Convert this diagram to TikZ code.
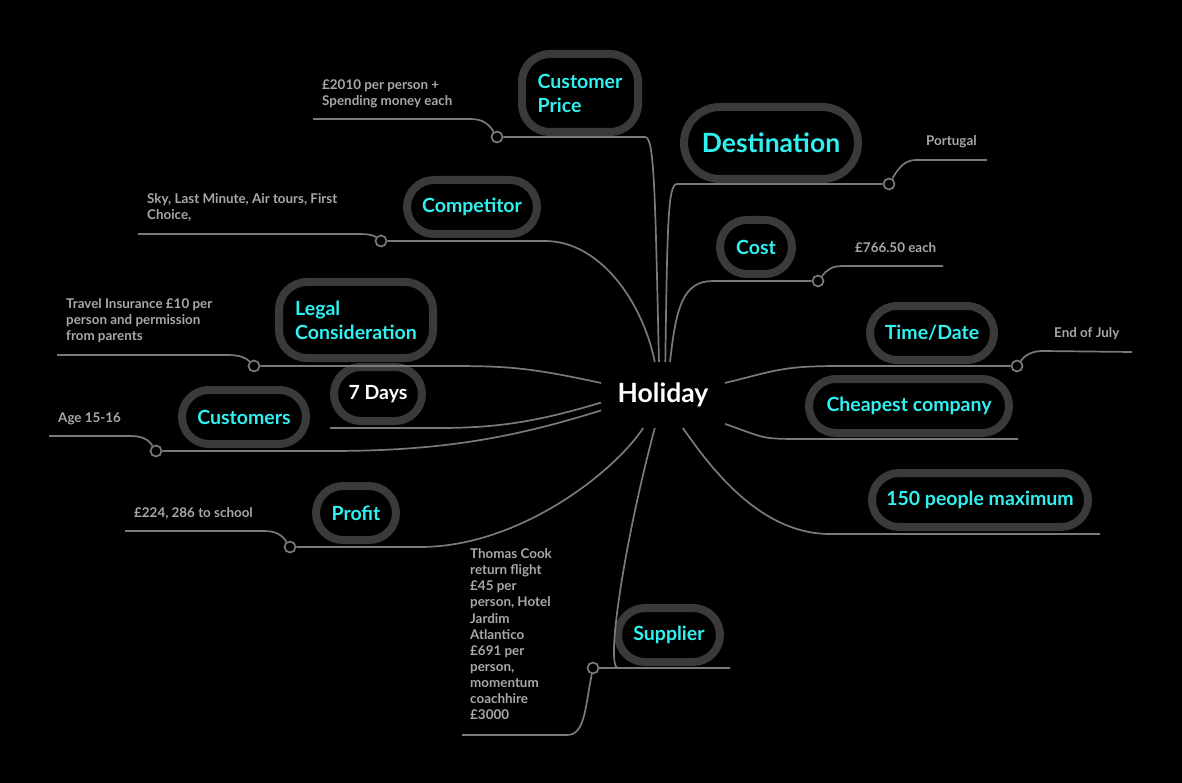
\documentclass[tikz,border=0pt]{standalone}
\usepackage{fontspec}
\setmainfont{Lato}
\definecolor{boxgray}{RGB}{58,58,58}
\definecolor{linkgray}{RGB}{122,122,122}
\definecolor{topiccyan}{RGB}{48,240,240}
\definecolor{notegray}{RGB}{168,168,168}
\tikzset{
  topic/.style={draw=boxgray, line width=8pt, fill=black, text=topiccyan,
    font=\fontsize{19.5}{24}\selectfont\bfseries, rounded corners=27pt,
    minimum height=54pt, inner sep=0pt, outer sep=0pt, align=left},
  twoline/.style={minimum height=78pt, rounded corners=28pt},
  centre/.style={fill=black, text=white, font=\fontsize{26.5}{30}\selectfont\bfseries,
    minimum width=124pt, minimum height=66pt, inner sep=0pt, outer sep=0pt},
  note/.style={anchor=north west, inner sep=0pt, text=notegray,
    font=\fontsize{13.4}{16.1}\selectfont\bfseries, align=left},
  link/.style={draw=linkgray, line width=1.7pt},
  dot/.style={circle, draw=linkgray, fill=black, line width=1.7pt,
    minimum size=11pt, inner sep=0pt}
}
\begin{document}
\begin{tikzpicture}[x=1pt,y=-1pt]
\fill[black] (0,0) rectangle (1182,783);
\useasboundingbox (0,0) rectangle (1182,783);

% centre
\node[centre] (hol) at (663,395) {Holiday};

% topics
\node[topic, twoline, minimum width=116pt] (cprice) at (580,93) {Customer\\Price};
\node[topic, minimum width=174pt, minimum height=72pt, rounded corners=36pt,
  font=\fontsize{26.5}{30}\selectfont\bfseries] (dest) at (771,143) {Destination};
\node[topic, minimum width=130pt] (comp) at (472,207) {Competitor};
\node[topic, minimum width=72pt] (cost) at (756,247) {Cost};
\node[topic, twoline, minimum width=154pt, minimum height=76pt] (legal) at (356,320) {Legal\\Consideration};
\node[topic, minimum width=88pt, text=white] (days) at (378,394) {7 Days};
\node[topic, minimum width=124pt] (cust) at (244,417) {Customers};
\node[topic, minimum width=124pt] (time) at (932,333) {Time/Date};
\node[topic, minimum width=200pt] (cheap) at (909,406) {Cheapest company};
\node[topic, minimum width=216pt] (people) at (980,500) {150 people maximum};
\node[topic, minimum width=80pt] (profit) at (356,513) {Profit};
\node[topic, minimum width=102pt] (supp) at (669,635) {Supplier};

% notes
\node[note] (cptext) at (322,79.5) {£2010 per person +\\Spending money each};
\node[note] (dstext) at (926,135.5) {Portugal};
\node[note] (cmtext) at (147,193.5) {Sky, Last Minute, Air tours, First\\Choice,};
\node[note] (cotext) at (855,242.5) {£766.50 each};
\node[note] (lgtext) at (66,298.5) {Travel Insurance £10 per\\person and permission\\from parents};
\node[note] (cstext) at (58,412.5) {Age 15-16};
\node[note] (pftext) at (134,507.5) {£224, 286 to school};
\node[note] (tdtext) at (1054,327.5) {End of July};
\node[note] (sptext) at (470,548.5) {Thomas Cook\\return flight\\£45 per\\person, Hotel\\Jardim\\Atlantico\\£691 per\\person,\\momentum\\coachhire\\£3000};

% dots
\node[dot] (cpdot) at (497,137) {};
\node[dot] (dsdot) at (889,184) {};
\node[dot] (cmdot) at (381,241) {};
\node[dot] (codot) at (818,281) {};
\node[dot] (lgdot) at (254,366) {};
\node[dot] (csdot) at (156,451) {};
\node[dot] (pfdot) at (290,547) {};
\node[dot] (tddot) at (1017,366) {};
\node[dot] (spdot) at (593,668) {};

% line ends
\coordinate (cpR) at (645,137);  \coordinate (cpE) at (313,119);
\coordinate (dsL) at (677,184);  \coordinate (dsE) at (987,160);
\coordinate (cmR) at (545,241);  \coordinate (cmE) at (138,234);
\coordinate (coL) at (713,281);  \coordinate (coE) at (943,266);
\coordinate (lgR) at (450,366);  \coordinate (lgE) at (57,355);
\coordinate (dyR) at (440,428);  \coordinate (dyL) at (330,428);
\coordinate (csR) at (330,451);  \coordinate (csE) at (49,436);
\coordinate (pfR) at (420,547);  \coordinate (pfE) at (125,531);
\coordinate (tdL) at (840,366);  \coordinate (tdE) at (1132,352);
\coordinate (chL) at (800,439);  \coordinate (chR) at (1018,439);
\coordinate (ppL) at (830,534);  \coordinate (ppR) at (1100,534);
\coordinate (spL) at (618,668);  \coordinate (spR) at (730,668);
\coordinate (spE) at (462,735);

% holiday to topics
\draw[link] (hol.104) .. controls +(-12,-60) and +(55,0) .. (cmR) -- (cmdot);
\draw[link] (hol.97) .. controls +(-4,-180) and +(9,0) .. (cpR) -- (cpdot);
\draw[link] (hol.86.5) .. controls +(2,-140) and +(-9,0) .. (dsL) -- (dsdot);
\draw[link] (hol.78) .. controls +(6,-55) and +(-30,0) .. (coL) -- (codot);
\draw[link] (hol.169) .. controls +(-70,-15) and +(60,0) .. (lgR) -- (lgdot);
\draw[link] (hol.187.5) .. controls +(-60,18) and +(60,0) .. (dyR) -- (dyL);
\draw[link] (hol.194) .. controls +(-90,28) and +(110,0) .. (csR) -- (csdot);
\draw[link] (hol.239) .. controls +(-28,43) and +(100,0) .. (pfR) -- (pfdot);
\draw[link] (hol.256) .. controls +(-30,112) and +(-13,0) .. (spL) -- (spR);
\draw[link] (spdot) -- (spL);
\draw[link] (hol.301) .. controls +(28,40) and +(-70,0) .. (ppL) -- (ppR);
\draw[link] (hol.335) .. controls +(40,14) and +(-40,0) .. (chL) -- (chR);
\draw[link] (hol.11) .. controls +(50,-12) and +(-60,0) .. (tdL) -- (tddot);

% dots to notes
\draw[link] (cpdot) .. controls +(-9,-14) and +(12,0) .. +(-27,-18) -- (cpE);
\draw[link] (dsdot) .. controls +(9,-15) and +(-12,0) .. +(27,-24) -- (dsE);
\draw[link] (cmdot) .. controls +(-8,-6) and +(12,0) .. +(-24,-7) -- (cmE);
\draw[link] (codot) .. controls +(9,-11) and +(-12,0) .. +(25,-15) -- (coE);
\draw[link] (lgdot) .. controls +(-8,-8) and +(14,0) .. +(-27,-11) -- (lgE);
\draw[link] (csdot) .. controls +(-8,-12) and +(12,0) .. +(-26,-15) -- (csE);
\draw[link] (pfdot) .. controls +(-8,-12) and +(12,0) .. +(-26,-16) -- (pfE);
\draw[link] (tddot) .. controls +(8,-11) and +(-11,0) .. +(26,-15) -- (tdE);
\draw[link] (spdot) .. controls +(-8,40) and +(18,0) .. +(-26,67) -- (spE);
\end{tikzpicture}
\end{document}
